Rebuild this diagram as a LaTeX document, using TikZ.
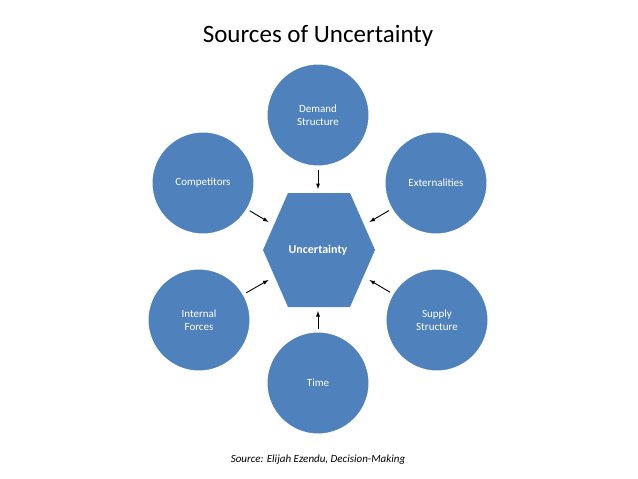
\documentclass[tikz,border=0pt]{standalone}
\usepackage{fontspec}
\setmainfont{Carlito}
\definecolor{cblue}{RGB}{79,129,189}
\begin{document}
\begin{tikzpicture}[x=1pt,y=-1pt,
  src/.style={circle,fill=cblue,draw=white,line width=1pt,minimum size=102pt,inner sep=0pt,text=white,font=\fontsize{11}{13.5}\selectfont,align=center},
  arr/.style={-latex,line width=0.9pt,shorten <=3pt,shorten >=4pt}]
\useasboundingbox (0,0) rectangle (638,479);
\node (title) at (318,36) {\fontsize{25}{29}\selectfont Sources of Uncertainty};
\fill[cblue] (263,250)--(288,193)--(350,193)--(375,250)--(350,307)--(288,307)--cycle;
\node[text=white,font=\bfseries\fontsize{12}{14}\selectfont] (u) at (318,250) {Uncertainty};
\coordinate (ut) at (318,193);
\coordinate (ub) at (318,307);
\coordinate (ul) at (272,224);
\coordinate (ur) at (366,224);
\coordinate (ull) at (272,278);
\coordinate (urr) at (366,278);
\node[src] (d) at (318,115) {Demand\\Structure};
\node[src] (c) at (203,183) {Competitors};
\node[src] (e) at (436,183) {Externalities};
\node[src] (i) at (199,320) {Internal\\Forces};
\node[src] (s) at (437,320) {Supply\\Structure};
\node[src] (t) at (318,383) {Time};
\draw[arr] (d) -- (ut);
\draw[arr] (c) -- (ul);
\draw[arr] (e) -- (ur);
\draw[arr] (i) -- (ull);
\draw[arr] (s) -- (urr);
\draw[arr] (t) -- (ub);
\node[font=\itshape\fontsize{11}{13}\selectfont] (cap) at (318,460) {Source: Elijah Ezendu, Decision-Making};
\end{tikzpicture}
\end{document}
